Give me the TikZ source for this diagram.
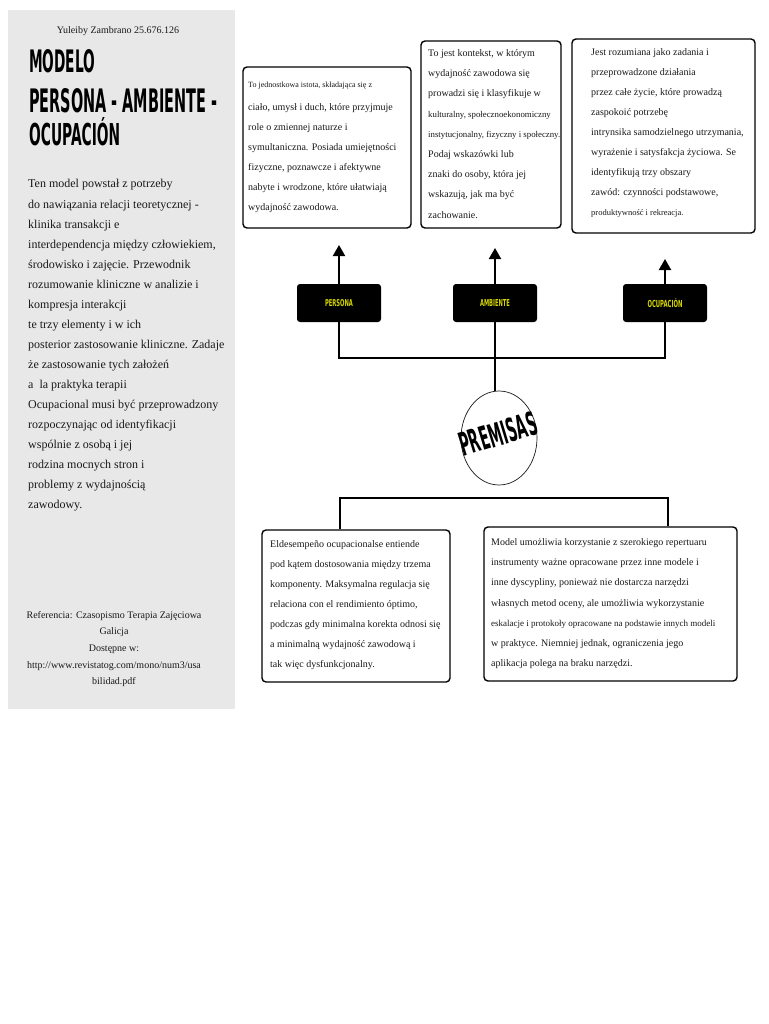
\documentclass[tikz,border=0pt]{standalone}
\usepackage{fontspec}
\setmainfont{Liberation Serif}
\newfontfamily\titlefont{DejaVu Sans}
\usetikzlibrary{arrows.meta,shapes.geometric}
\definecolor{panel}{RGB}{232,232,232}
\definecolor{ylw}{RGB}{215,215,0}
\definecolor{ink}{RGB}{25,25,25}
\newcommand\fs[1]{\fontsize{#1}{20}\selectfont}
\newcommand\ttlbox[3]{\resizebox{#1}{#2}{\titlefont\bfseries #3}}
\tikzset{
  panelbox/.style={fill=panel, draw=none, inner sep=0, minimum width=227pt, minimum height=699pt},
  txt/.style={anchor=base west, inner sep=0, text=ink},
  tbox/.style={draw=black, line width=1.4pt, rounded corners=4pt, fill=white, inner sep=0},
  blk/.style={fill=black, rounded corners=3pt, inner sep=0, minimum width=84pt, minimum height=38pt, text=ylw},
  conn/.style={draw=black, line width=2pt},
  arr/.style={draw=black, line width=2pt, -{Triangle[width=12pt,length=11pt]}},
}
\begin{document}
\begin{tikzpicture}[x=1pt,y=-1pt]
\useasboundingbox (0,0) rectangle (768,1024);
\fill[white] (0,0) rectangle (768,1024);
% left panel
\node[panelbox] (panel) at (121.5,359.5) {};
\node[anchor=base, inner sep=0, text=ink] (author) at (118,34) {\fs{10}Yuleiby Zambrano 25.676.126};
\node[anchor=base west, inner sep=0] (title1) at (29,73) {\ttlbox{66pt}{23pt}{MODELO}};
\node[anchor=base west, inner sep=0] (title2) at (29,113) {\ttlbox{188pt}{24pt}{PERSONA - AMBIENTE -}};
\node[anchor=base west, inner sep=0] (title3) at (29,146) {\ttlbox{91pt}{28pt}{OCUPACIÓN}};
\node[txt] (para) at (28,188) {\parbox[t]{215pt}{\fontsize{12}{20.06}\selectfont
Ten model powstał z potrzeby\\
do nawiązania relacji teoretycznej -\\
klinika transakcji e\\
interdependencja między człowiekiem,\\
środowisko i zajęcie. Przewodnik\\
rozumowanie kliniczne w analizie i\\
kompresja interakcji\\
te trzy elementy i w ich\\
posterior zastosowanie kliniczne. Zadaje\\
że zastosowanie tych założeń\\
a~ la praktyka terapii\\
Ocupacional musi być przeprowadzony\\
rozpoczynając od identyfikacji\\
wspólnie z osobą i jej\\
rodzina mocnych stron i\\
problemy z wydajnością\\
zawodowy.}};
\node[anchor=base, inner sep=0, text=ink] (ref) at (114,618) {\parbox[t]{215pt}{\centering\fontsize{10}{16.7}\selectfont
Referencia: Czasopismo Terapia Zajęciowa\\
Galicja\\
Dostępne w:\\
http://www.revistatog.com/mono/num3/usa\\
bilidad.pdf}};
% top text boxes
\node[tbox, minimum width=168pt, minimum height=161pt] (bp) at (327,147.5) {};
\node[tbox, minimum width=140pt, minimum height=187pt] (ba) at (491,134.5) {};
\node[tbox, minimum width=183pt, minimum height=194pt] (bo) at (663.5,136) {};
\node[txt] (tp) at (248,88) {\parbox[t]{200pt}{\fs{10}%
{\fs{8}To jednostkowa istota, składająca się z}\\[3pt]
ciało, umysł i duch, które przyjmuje\\
role o zmiennej naturze i\\
symultaniczna. Posiada umiejętności\\
fizyczne, poznawcze i afektywne\\
nabyte i wrodzone, które ułatwiają\\
wydajność zawodowa.}};
\node[txt] (ta) at (428,56.5) {\parbox[t]{200pt}{\fontsize{10}{20.2}\selectfont
To jest kontekst, w którym\\
wydajność zawodowa się\\
prowadzi się i klasyfikuje w\\
{\fontsize{8.8}{20.2}\selectfont kulturalny, społecznoekonomiczny}\\
{\fontsize{8.8}{20.2}\selectfont instytucjonalny, fizyczny i społeczny.}\\
Podaj wskazówki lub\\
znaki do osoby, która jej\\
wskazują, jak ma być\\
zachowanie.}};
\node[txt] (to) at (591,55.5) {\parbox[t]{200pt}{\fs{10}%
Jest rozumiana jako zadania i\\
przeprowadzone działania\\
przez całe życie, które prowadzą\\
zaspokoić potrzebę\\
intrynsika samodzielnego utrzymania,\\
wyrażenie i satysfakcja życiowa. Se\\
identyfikują trzy obszary\\
zawód: czynności podstawowe,\\
{\fs{8.5}produktywność i rekreacja.}}};
% black boxes
\node[blk] (persona) at (339,303) {\ttlbox{28pt}{7pt}{PERSONA}};
\node[blk] (ambiente) at (495,303) {\ttlbox{30pt}{7pt}{AMBIENTE}};
\node[blk] (ocup) at (665,303) {\ttlbox{35pt}{9pt}{OCUPACIÓN}};
\coordinate (ap) at (339,245);
\coordinate (aa) at (495,248);
\coordinate (ao) at (665,259);
\draw[arr] (persona.north) -- (ap);
\draw[arr] (ambiente.north) -- (aa);
\draw[arr] (ocup.north) -- (ao);
% premisas
\node[draw=ink, line width=0.7pt, ellipse, minimum width=76pt, minimum height=94pt, inner sep=0] (prem) at (499,438) {};
\node[rotate=17, inner sep=0] (premtxt) at (498,434) {\ttlbox{80pt}{24pt}{PREMISAS}};
\draw[conn] (persona.south) -- ++(0,36) -| (ocup.south);
\draw[conn] (ambiente.south) -- (ambiente.south |- prem.north);
% bottom boxes
\node[tbox, minimum width=188pt, minimum height=152pt] (bb1) at (356,606) {};
\node[tbox, minimum width=253pt, minimum height=154pt] (bb2) at (610.5,604) {};
\coordinate (j1) at (340,497.5);
\coordinate (j2) at (668,497.5);
\draw[conn] (j1 |- bb1.north) -- (j1) -- (j2) -- (j2 |- bb2.north);
\node[txt] (tb1) at (270,547.5) {\parbox[t]{220pt}{\fs{10}%
Eldesempeño ocupacionalse entiende\\
pod kątem dostosowania między trzema\\
komponenty. Maksymalna regulacja się\\
relaciona con el rendimiento óptimo,\\
podczas gdy minimalna korekta odnosi się\\
a minimalną wydajność zawodową i\\
tak więc dysfunkcjonalny.}};
\node[txt] (tb2) at (491,545.5) {\parbox[t]{280pt}{\fontsize{10}{20.2}\selectfont
Model umożliwia korzystanie z szerokiego repertuaru\\
instrumenty ważne opracowane przez inne modele i\\
inne dyscypliny, ponieważ nie dostarcza narzędzi\\
własnych metod oceny, ale umożliwia wykorzystanie\\
{\fontsize{9}{20.2}\selectfont eskalacje i protokoły opracowane na podstawie innych modeli}\\
w praktyce. Niemniej jednak, ograniczenia jego\\
aplikacja polega na braku narzędzi.}};
\end{tikzpicture}
\end{document}
